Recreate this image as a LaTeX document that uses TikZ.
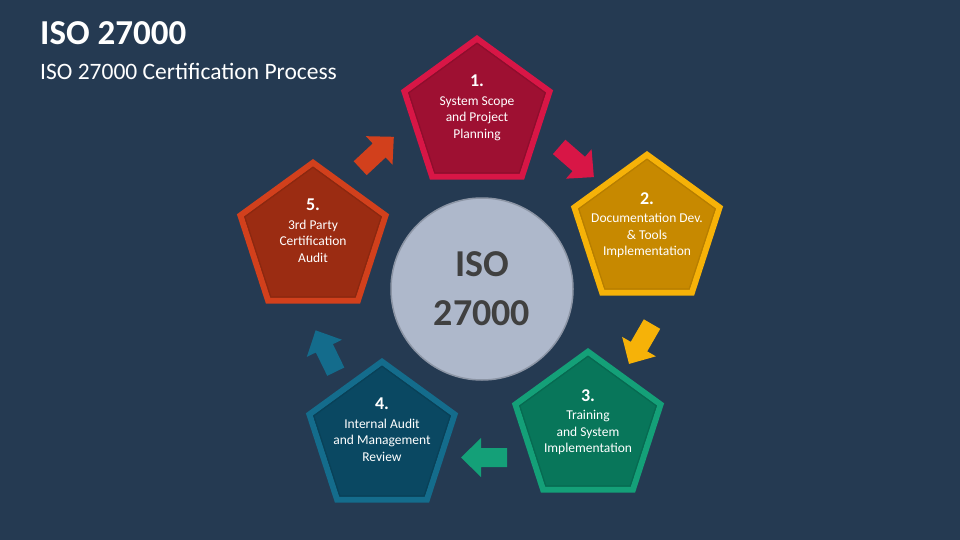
\documentclass[tikz,border=0pt]{standalone}
\usepackage{fontspec}
\setmainfont{Carlito}
\usetikzlibrary{shapes.geometric}

\definecolor{bgnavy}{HTML}{253A52}
\definecolor{redlt}{HTML}{D81646}
\definecolor{reddk}{HTML}{9E1032}
\definecolor{goldlt}{HTML}{F6B208}
\definecolor{golddk}{HTML}{C78900}
\definecolor{greenlt}{HTML}{14A078}
\definecolor{greendk}{HTML}{08765A}
\definecolor{teallt}{HTML}{146C8C}
\definecolor{tealdk}{HTML}{0A4862}
\definecolor{rustlt}{HTML}{D2401C}
\definecolor{rustdk}{HTML}{9B2C12}
\definecolor{isofill}{HTML}{AEB8CB}
\definecolor{isoline}{HTML}{8C95A5}
\definecolor{isotext}{HTML}{404040}

% block arrow: x, y, angle, colour
\newcommand{\blockarrow}[4]{%
  \fill[#4,shift={(#1,#2)},rotate=#3] (-23,-9.5) -- (3,-9.5) -- (3,-19.5) -- (23,0)
    -- (3,19.5) -- (3,9.5) -- (-23,9.5) -- cycle;
}
\newcommand{\stepnum}[1]{{\fontsize{18}{18}\selectfont\bfseries #1}\\[2pt]}

\begin{document}
\begin{tikzpicture}[x=1pt,y=-1pt,
  pent/.style={regular polygon,regular polygon sides=5,minimum size=152.6pt,
    inner sep=0pt,line width=6pt,line join=miter},
  pentshade/.style={regular polygon,regular polygon sides=5,minimum size=143.5pt,
    inner sep=0pt,line width=1.2pt},
  pentlabel/.style={anchor=north,inner sep=0pt,align=center,text=white,
    font=\fontsize{13.5}{16.5}\selectfont}]

%Fondo
\fill[bgnavy] (0,0) rectangle (960,540);
\useasboundingbox (0,0) rectangle (960,540);

%Titulos
\node[anchor=base west,inner sep=0pt,text=white,font=\fontsize{35}{40}\selectfont\bfseries] (title) at (40,45) {ISO 27000};
\node[anchor=base west,inner sep=0pt,text=white,font=\fontsize{23.5}{28}\selectfont] (subtitle) at (40,80) {ISO 27000 Certification Process};

%Circulo central
\node[circle,minimum size=182pt,inner sep=0pt,fill=isofill,draw=isoline,line width=1.5pt] (iso) at (482,289) {};
\node[align=center,inner sep=0pt,text=isotext,font=\fontsize{38}{49}\selectfont\bfseries] (isotxt) at (iso.center) {ISO\\27000};

%Pentagonos
\node[pent,draw=redlt,fill=reddk] (p1) at (477,115) {};
\node[pent,draw=goldlt,fill=golddk] (p2) at (647,231) {};
\node[pent,draw=greenlt,fill=greendk] (p3) at (588,428) {};
\node[pent,draw=teallt,fill=tealdk] (p4) at (382,438) {};
\node[pent,draw=rustlt,fill=rustdk] (p5) at (313,239) {};

\node[pentshade,draw=reddk!90!black] (s1) at (p1.center) {};
\node[pentshade,draw=golddk!92!black] (s2) at (p2.center) {};
\node[pentshade,draw=greendk!90!black] (s3) at (p3.center) {};
\node[pentshade,draw=tealdk!90!black] (s4) at (p4.center) {};
\node[pentshade,draw=rustdk!90!black] (s5) at (p5.center) {};

%Textos
\node[pentlabel] (t1) at ([yshift=40pt]p1.center) {\stepnum{1.}System Scope\\and Project\\Planning};
\node[pentlabel] (t2) at ([yshift=39pt]p2.center) {\stepnum{2.}Documentation Dev.\\\& Tools\\Implementation};
\node[pentlabel] (t3) at ([yshift=39pt]p3.center) {\stepnum{3.}Training\\and System\\Implementation};
\node[pentlabel] (t4) at ([yshift=40pt]p4.center) {\stepnum{4.}Internal Audit\\and Management\\Review};
\node[pentlabel] (t5) at ([yshift=40pt]p5.center) {\stepnum{5.}3rd Party\\Certification\\Audit};

%Flechas
\blockarrow{576.5}{162}{-41}{redlt}
\blockarrow{640.5}{344}{-120}{goldlt}
\blockarrow{484}{457.5}{180}{greenlt}
\blockarrow{325.7}{351}{116}{teallt}
\blockarrow{377}{152.5}{43}{rustlt}
\end{tikzpicture}
\end{document}
